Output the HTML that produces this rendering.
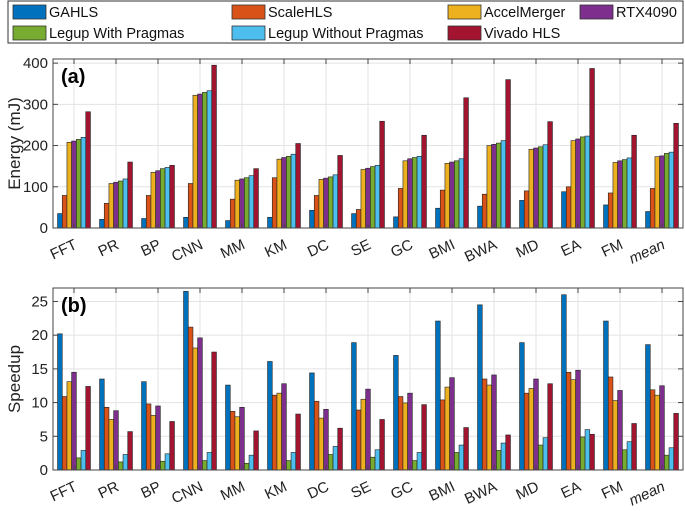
<!DOCTYPE html>
<html><head><meta charset="utf-8">
<style>
html,body{margin:0;padding:0;background:#fff;}
svg{display:block;font-family:"Liberation Sans",sans-serif;}
</style></head>
<body>
<svg id="chart" width="685" height="511" viewBox="0 0 685 511" xmlns="http://www.w3.org/2000/svg">
  <g id="legend">
    <rect x="8" y="1" width="675" height="42" fill="#fff" stroke="#333" stroke-width="1"/>
  </g>
  <g id="plotA"></g>
  <g id="plotB"></g>
</svg>
<script>
const categories = ["FFT","PR","BP","CNN","MM","KM","DC","SE","GC","BMI","BWA","MD","EA","FM","mean"];
const seriesNames = ["GAHLS","ScaleHLS","AccelMerger","RTX4090","Legup With Pragmas","Legup Without Pragmas","Vivado HLS"];
const seriesColors = ["#0072BD","#D95319","#EDB120","#7E2F8E","#77AC30","#4DBEEE","#A2142F"];
// Energy (mJ)
const energyGAHLS = [35,21,23,26,18,26,43,35,27,48,53,67,88,56,40];
const energyScaleHLS = [79,60,79,108,70,122,79,45,96,92,82,90,100,85,96];
const energyAccelMerger = [208,108,135,322,116,167,118,142,163,157,200,191,212,159,173];
const energyRTX4090 = [211,111,139,325,119,171,121,145,168,160,203,194,216,163,175];
const energyLegupWith = [215,114,144,329,122,174,124,149,171,163,206,197,221,166,181];
const energyLegupWithout = [220,119,147,333,127,179,129,152,174,168,212,202,223,170,184];
const energyVivado = [282,160,152,395,144,205,176,259,225,316,360,258,387,225,254];
// Speedup
const speedGAHLS = [20.2,13.5,13.1,26.5,12.6,16.1,14.4,18.9,17.0,22.1,24.5,18.9,26.0,22.1,18.6];
const speedScaleHLS = [10.9,9.3,9.8,21.2,8.7,11.1,10.2,8.9,10.9,10.4,13.5,11.4,14.5,13.8,11.9];
const speedAccelMerger = [13.1,7.5,8.1,18.1,7.9,11.4,7.7,10.5,9.95,12.3,12.6,12.1,13.4,10.3,11.1];
const speedRTX4090 = [14.5,8.8,9.5,19.6,9.3,12.8,9.0,12.0,11.4,13.7,14.1,13.5,14.8,11.8,12.5];
const speedLegupWith = [1.8,1.2,1.3,1.4,1.0,1.4,2.3,1.9,1.4,2.6,2.9,3.7,4.9,3.0,2.2];
const speedLegupWithout = [2.9,2.3,2.4,2.6,2.2,2.6,3.5,3.0,2.6,3.7,4.0,4.8,6.0,4.2,3.3];
const speedVivado = [12.4,5.7,7.2,17.5,5.8,8.3,6.2,7.5,9.7,6.3,5.2,12.8,5.3,6.9,8.4];
const energyTicks = [0,100,200,300,400];
const speedTicks = [0,5,10,15,20,25];

const NS = "http://www.w3.org/2000/svg";
function mk(tag, attrs, parent){
  const e = document.createElementNS(NS, tag);
  for (const k in attrs) e.setAttribute(k, attrs[k]);
  parent.appendChild(e);
  return e;
}

// legend
const legend = document.getElementById("legend");
const legPos = [[13,12],[232,12],[448,12],[580,12],[13,33],[232,33],[448,33]];
seriesNames.forEach((n,i)=>{
  const [x,y] = legPos[i];
  const sw = mk("rect",{x:x,y:y-7,width:33,height:14,fill:seriesColors[i],stroke:"#333","stroke-width":0.8},legend);
  
  
  const t = mk("text",{x:x+36,y:y+5,"font-size":"14.5",fill:"#111"},legend);
  t.textContent = n;
  
  
});

function drawPanel(gid, top, bottom, ymax, ticks, series, ylabel, panelLabel){
  const g = document.getElementById(gid);
  const L = 53, R = 683;
  const band = (R-L)/categories.length;
  const xc = i => L + band*(i+0.5);
  const y = v => bottom - (v/ymax)*(bottom-top);
  // grid
  ticks.forEach(t=>{
    const gl = mk("line",{x1:L,x2:R,y1:y(t),y2:y(t),stroke:"#e3e3e3","stroke-width":1},g);
    
    
  });
  categories.forEach((c,i)=>{
    const gl = mk("line",{x1:xc(i),x2:xc(i),y1:top,y2:bottom,stroke:"#e3e3e3","stroke-width":1},g);
    
    
  });
  // bars
  const bw = 4.7;
  series.forEach((vals,s)=>{
    vals.forEach((v,i)=>{
      const x = xc(i) + (s-3)*bw - bw/2;
      const b = mk("rect",{x:x,y:y(v),width:bw,height:bottom-y(v),fill:seriesColors[s],stroke:"#222","stroke-width":0.6},g);
      
      
    });
  });
  // box
  const box = mk("rect",{x:L,y:top,width:R-L,height:bottom-top,fill:"none",stroke:"#444","stroke-width":1},g);
  
  
  // ticks & labels
  ticks.forEach(t=>{
    mk("line",{x1:L,x2:L+5,y1:y(t),y2:y(t),stroke:"#444"},g);
    mk("line",{x1:R,x2:R-5,y1:y(t),y2:y(t),stroke:"#444"},g);
    const tl = mk("text",{x:L-5,y:y(t)+5,"text-anchor":"end","font-size":"15",fill:"#222"},g);
    tl.textContent = t;
    
    
  });
  categories.forEach((c,i)=>{
    mk("line",{x1:xc(i),x2:xc(i),y1:bottom,y2:bottom-5,stroke:"#444"},g);
    mk("line",{x1:xc(i),x2:xc(i),y1:top,y2:top+5,stroke:"#444"},g);
    const tx = xc(i)+4, ty = bottom+20;
    const xl = mk("text",{x:tx,y:ty,"text-anchor":"end","font-size":"15",fill:"#222",transform:`rotate(-25 ${tx} ${ty})`},g);
    if (c==="mean") xl.setAttribute("font-style","italic");
    xl.textContent = c;
    
    
  });
  const cy = (top+bottom)/2;
  const yl = mk("text",{x:20,y:cy,"text-anchor":"middle","font-size":"17",fill:"#222",transform:`rotate(-90 20 ${cy})`},g);
  yl.textContent = ylabel;
  
  
  const pl = mk("text",{x:L+8,y:top+24,"font-size":"20","font-weight":"bold",fill:"#000"},g);
  pl.textContent = panelLabel;
  
  
}

drawPanel("plotA", 59, 228, 410, energyTicks,
  [energyGAHLS,energyScaleHLS,energyAccelMerger,energyRTX4090,energyLegupWith,energyLegupWithout,energyVivado],
  "Energy (mJ)", "(a)");
drawPanel("plotB", 288, 470, 27, speedTicks,
  [speedGAHLS,speedScaleHLS,speedAccelMerger,speedRTX4090,speedLegupWith,speedLegupWithout,speedVivado],
  "Speedup", "(b)");
</script>
</body></html>
